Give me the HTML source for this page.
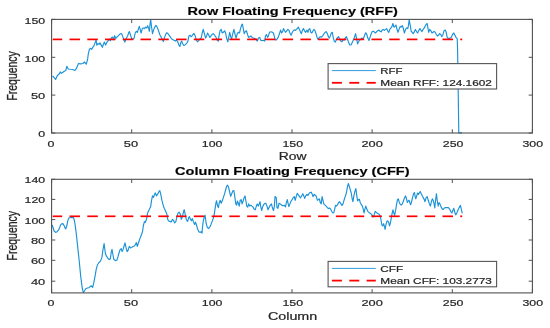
<!DOCTYPE html>
<html><head><meta charset="utf-8"><title>Floating Frequency</title>
<style>html,body{margin:0;padding:0;background:#fff}svg{display:block}</style>
</head><body><svg width="550" height="328" viewBox="0 0 550 328"><rect width="550" height="328" fill="#fff"/><g font-family="Liberation Sans, Arial, Helvetica, sans-serif"><polyline fill="none" stroke="#1a92d8" stroke-width="1.15" stroke-linejoin="round" points="52.6,76.0 54.1,77.5 55.6,79.5 57.0,76.3 58.0,74.9 59.2,74.1 60.2,71.9 61.4,73.4 62.9,72.2 64.3,71.2 65.8,70.5 66.8,66.4 68.3,69.0 70.5,69.3 72.7,69.5 74.9,70.5 76.3,68.7 78.5,63.5 80.7,63.9 82.9,63.5 84.4,62.0 86.3,64.2 87.7,58.8 88.3,53.8 89.5,49.0 90.7,48.4 91.7,49.4 92.7,47.3 93.9,45.8 95.0,42.9 96.1,39.9 96.8,45.1 98.0,43.6 99.0,44.3 100.0,42.9 101.2,45.1 102.4,47.3 103.4,44.3 104.4,42.1 105.6,45.1 107.0,42.1 108.2,40.7 109.2,39.2 110.3,40.7 111.4,37.7 112.6,37.0 113.6,39.9 114.6,35.6 115.8,38.5 117.0,37.0 118.4,35.6 119.9,34.1 121.4,33.4 122.4,35.6 123.9,39.9 124.9,42.1 126.1,38.5 127.5,36.3 129.0,31.9 129.4,31.6 130.6,35.2 131.6,38.9 133.0,39.2 134.1,38.1 135.2,33.0 136.4,31.3 137.4,32.3 138.5,28.6 139.3,26.4 140.4,30.1 141.1,33.0 142.3,28.6 143.3,27.9 144.3,28.6 145.5,27.2 146.6,27.9 147.7,25.7 148.7,28.6 149.4,31.3 150.2,22.8 150.7,19.6 151.6,27.2 152.5,33.7 153.5,30.1 154.7,27.2 156.0,25.4 157.2,27.2 158.3,30.1 159.8,34.5 161.3,37.4 162.3,39.6 163.3,41.5 164.5,37.4 165.7,34.5 166.7,32.7 168.1,33.7 169.6,35.9 171.1,38.1 172.5,39.6 174.0,40.3 175.5,41.1 176.5,40.0 177.7,41.8 178.8,44.7 179.8,46.5 180.9,42.5 181.7,41.1 182.8,44.0 183.8,45.4 185.3,44.7 186.7,43.3 187.9,41.1 188.9,35.9 190.1,35.2 191.1,36.7 192.0,35.9 193.0,34.5 194.0,33.5 195.2,35.9 196.2,39.6 197.4,41.8 198.9,40.3 200.0,38.9 201.2,38.1 202.2,33.0 203.2,29.4 204.4,33.7 205.6,38.1 206.6,35.9 207.6,33.0 208.8,35.2 209.9,37.4 211.0,35.9 212.0,34.5 213.2,33.7 214.6,35.2 216.1,37.4 217.3,40.3 218.3,41.1 219.0,35.9 220.0,30.8 221.2,29.4 222.2,33.0 223.4,32.3 224.6,30.8 225.6,33.0 226.6,38.1 227.8,41.8 228.7,37.4 229.7,32.3 230.7,36.7 231.6,38.9 232.8,33.7 233.9,29.4 235.1,34.5 236.1,38.1 237.3,33.7 238.3,32.3 239.5,33.0 240.5,28.6 241.7,25.0 242.4,24.2 243.3,28.6 244.2,33.7 245.3,31.6 246.5,30.8 247.5,34.5 248.6,37.4 249.7,36.7 250.9,35.9 252.1,37.4 253.4,38.1 254.8,38.6 256.3,39.6 257.3,41.1 258.5,38.1 259.7,37.4 260.7,40.3 262.2,40.6 263.6,40.3 264.6,41.1 265.5,35.9 266.5,34.5 267.6,37.4 268.4,35.9 269.5,32.3 270.9,31.8 272.4,32.3 273.4,33.0 274.6,37.4 275.0,39.6 276.2,40.0 277.2,38.9 278.2,37.4 279.4,33.7 280.6,30.1 281.6,33.0 282.6,31.6 283.5,28.6 284.5,30.8 285.5,32.3 286.7,30.8 287.9,29.4 288.9,30.1 289.9,33.0 291.1,35.2 292.3,32.3 293.3,30.8 294.3,29.8 295.5,30.4 296.6,29.4 297.7,27.9 298.4,27.2 299.4,29.4 300.6,32.3 301.3,33.7 302.5,30.1 303.5,28.6 304.5,30.8 305.7,32.3 306.9,30.1 307.9,32.3 308.9,29.4 309.8,28.6 310.8,32.3 311.9,33.0 313.0,30.8 314.0,29.4 314.8,30.1 316.0,33.7 317.1,37.4 318.1,39.6 319.2,37.4 320.3,36.7 321.5,37.1 322.7,35.9 324.0,33.7 325.2,32.3 326.2,31.6 327.4,33.7 328.4,36.7 329.4,38.1 330.3,35.9 331.3,33.0 332.3,32.3 333.2,37.4 334.2,41.1 335.3,42.1 336.4,39.6 337.6,37.4 338.6,36.7 339.6,38.9 340.8,41.1 342.0,41.8 343.0,39.6 344.0,40.3 345.2,38.1 346.4,36.7 347.4,38.9 348.4,41.8 349.6,44.7 350.0,45.0 351.2,44.7 352.2,42.5 353.2,40.3 354.4,37.4 355.6,33.7 356.6,38.9 357.6,44.0 358.5,41.8 359.5,40.3 360.5,39.6 361.7,38.1 362.9,38.9 363.9,37.4 364.9,34.5 365.8,32.7 366.8,34.5 367.8,38.1 369.0,40.6 370.0,37.4 371.2,33.7 372.2,31.6 373.4,31.3 374.6,32.3 375.6,33.0 376.6,31.6 377.8,30.8 379.0,30.1 380.0,31.3 381.0,31.8 382.2,30.1 383.3,29.4 384.4,30.4 385.5,29.4 386.6,28.6 387.7,30.8 388.8,32.3 389.8,29.4 391.0,27.9 392.0,26.4 392.9,23.5 393.9,27.2 394.9,26.4 395.9,25.0 396.8,28.6 398.0,32.3 399.0,29.4 400.2,26.4 401.2,27.2 402.4,25.7 403.4,28.6 404.4,33.0 405.6,29.4 406.7,27.9 407.8,28.6 408.5,25.0 409.2,19.9 410.3,25.7 411.1,30.8 412.2,32.3 413.2,33.7 414.4,31.6 415.4,29.4 416.5,31.6 417.6,33.0 418.7,30.8 419.9,28.6 420.9,30.1 422.0,31.6 423.1,29.4 424.3,27.9 425.0,26.4 426.2,24.2 427.2,23.5 427.9,27.9 428.7,32.3 429.7,29.4 430.9,30.8 432.0,33.0 433.0,32.3 434.1,31.6 435.2,32.3 436.4,34.5 437.4,35.9 438.5,35.2 439.6,33.7 440.8,34.5 441.8,36.7 442.8,35.2 444.0,30.8 445.2,30.1 446.2,32.3 447.2,37.4 448.4,38.6 449.9,38.1 451.3,37.4 452.5,34.5 453.8,33.0 455.0,35.2 456.0,37.4 457.2,38.6 457.6,50.0 458.8,132.8 462.0,132.8"/><g stroke="#ff0000" stroke-width="1.7"><line x1="52.7" y1="39.4" x2="62.2" y2="39.4"/><line x1="69.5" y1="39.4" x2="80.0" y2="39.4"/><line x1="87.3" y1="39.4" x2="97.8" y2="39.4"/><line x1="105.0" y1="39.4" x2="115.5" y2="39.4"/><line x1="122.8" y1="39.4" x2="133.3" y2="39.4"/><line x1="140.5" y1="39.4" x2="151.0" y2="39.4"/><line x1="158.3" y1="39.4" x2="168.8" y2="39.4"/><line x1="176.1" y1="39.4" x2="186.6" y2="39.4"/><line x1="193.8" y1="39.4" x2="204.3" y2="39.4"/><line x1="211.6" y1="39.4" x2="222.1" y2="39.4"/><line x1="229.3" y1="39.4" x2="239.8" y2="39.4"/><line x1="247.1" y1="39.4" x2="257.6" y2="39.4"/><line x1="264.9" y1="39.4" x2="275.4" y2="39.4"/><line x1="282.6" y1="39.4" x2="293.1" y2="39.4"/><line x1="300.4" y1="39.4" x2="310.9" y2="39.4"/><line x1="318.1" y1="39.4" x2="328.6" y2="39.4"/><line x1="335.9" y1="39.4" x2="346.4" y2="39.4"/><line x1="353.7" y1="39.4" x2="364.2" y2="39.4"/><line x1="371.4" y1="39.4" x2="381.9" y2="39.4"/><line x1="389.2" y1="39.4" x2="399.7" y2="39.4"/><line x1="406.9" y1="39.4" x2="417.4" y2="39.4"/><line x1="424.7" y1="39.4" x2="435.2" y2="39.4"/><line x1="442.5" y1="39.4" x2="453.0" y2="39.4"/><line x1="460.2" y1="39.4" x2="462.2" y2="39.4"/></g><rect x="51.6" y="19.4" width="480.8" height="113.6" fill="none" stroke="#505050" stroke-width="1.1"/><g stroke="#505050" stroke-width="1"><line x1="51.6" y1="133.0" x2="51.6" y2="129.3"/><line x1="51.6" y1="19.4" x2="51.6" y2="23.099999999999998"/><line x1="131.7" y1="133.0" x2="131.7" y2="129.3"/><line x1="131.7" y1="19.4" x2="131.7" y2="23.099999999999998"/><line x1="211.9" y1="133.0" x2="211.9" y2="129.3"/><line x1="211.9" y1="19.4" x2="211.9" y2="23.099999999999998"/><line x1="292.0" y1="133.0" x2="292.0" y2="129.3"/><line x1="292.0" y1="19.4" x2="292.0" y2="23.099999999999998"/><line x1="372.1" y1="133.0" x2="372.1" y2="129.3"/><line x1="372.1" y1="19.4" x2="372.1" y2="23.099999999999998"/><line x1="452.3" y1="133.0" x2="452.3" y2="129.3"/><line x1="452.3" y1="19.4" x2="452.3" y2="23.099999999999998"/><line x1="532.4" y1="133.0" x2="532.4" y2="129.3"/><line x1="532.4" y1="19.4" x2="532.4" y2="23.099999999999998"/><line x1="51.6" y1="133.0" x2="55.300000000000004" y2="133.0"/><line x1="532.4" y1="133.0" x2="528.6999999999999" y2="133.0"/><line x1="51.6" y1="95.1" x2="55.300000000000004" y2="95.1"/><line x1="532.4" y1="95.1" x2="528.6999999999999" y2="95.1"/><line x1="51.6" y1="57.3" x2="55.300000000000004" y2="57.3"/><line x1="532.4" y1="57.3" x2="528.6999999999999" y2="57.3"/><line x1="51.6" y1="19.4" x2="55.300000000000004" y2="19.4"/><line x1="532.4" y1="19.4" x2="528.6999999999999" y2="19.4"/></g><text font-size="9.8" fill="#262626" stroke="#262626" stroke-width="0.2" transform="translate(47.55,146.60) scale(1.2663,1)" >0</text><text font-size="9.8" fill="#262626" stroke="#262626" stroke-width="0.2" transform="translate(123.85,146.60) scale(1.3122,1)" >50</text><text font-size="9.8" fill="#262626" stroke="#262626" stroke-width="0.2" transform="translate(201.80,146.60) scale(1.2602,1)" >100</text><text font-size="9.8" fill="#262626" stroke="#262626" stroke-width="0.2" transform="translate(282.50,146.60) scale(1.2602,1)" >150</text><text font-size="9.8" fill="#262626" stroke="#262626" stroke-width="0.2" transform="translate(361.40,146.60) scale(1.3092,1)" >200</text><text font-size="9.8" fill="#262626" stroke="#262626" stroke-width="0.2" transform="translate(442.80,146.60) scale(1.2602,1)" >250</text><text font-size="9.8" fill="#262626" stroke="#262626" stroke-width="0.2" transform="translate(522.50,146.60) scale(1.2602,1)" >300</text><text font-size="9.8" fill="#262626" stroke="#262626" stroke-width="0.2" transform="translate(38.30,137.30) scale(1.2663,1)" >0</text><text font-size="9.8" fill="#262626" stroke="#262626" stroke-width="0.2" transform="translate(30.90,99.43) scale(1.3122,1)" >50</text><text font-size="9.8" fill="#262626" stroke="#262626" stroke-width="0.2" transform="translate(24.60,61.57) scale(1.2602,1)" >100</text><text font-size="9.8" fill="#262626" stroke="#262626" stroke-width="0.2" transform="translate(24.60,23.70) scale(1.2602,1)" >150</text><text font-size="10.4" fill="#262626" stroke="#262626" stroke-width="0.2" transform="translate(278.70,159.90) scale(1.3345,1)" >Row</text><text font-size="11.2" fill="#262626" stroke="#262626" stroke-width="0.2" font-weight="bold" transform="translate(187.60,15.40) scale(1.2956,1)" style="fill:#000">Row Floating Frequency (RFF)</text><text font-size="10.3" fill="#262626" stroke="#262626" stroke-width="0.2" transform="translate(16.50,100.60) rotate(-90) scale(1.0151,1.42)" >Frequency</text><rect x="328.1" y="63.6" width="168.5" height="25.4" fill="#fff" stroke="#555" stroke-width="1.1"/><line x1="331.8" y1="70.6" x2="375.8" y2="70.6" stroke="#1a92d8" stroke-width="0.9"/><g stroke="#ff0000" stroke-width="1.8"><line x1="331.9" y1="82.8" x2="341.9" y2="82.8"/><line x1="349.3" y1="82.8" x2="359.3" y2="82.8"/><line x1="366.6" y1="82.8" x2="375.8" y2="82.8"/></g><text font-size="8.8" fill="#262626" stroke="#262626" stroke-width="0.2" transform="translate(380.30,74.40) scale(1.3035,1)" >RFF</text><text font-size="8.8" fill="#262626" stroke="#262626" stroke-width="0.2" transform="translate(380.30,85.90) scale(1.3432,1)" >Mean RFF: 124.1602</text><polyline fill="none" stroke="#1a92d8" stroke-width="1.15" stroke-linejoin="round" points="52.2,224.8 52.9,227.3 54.1,231.0 55.6,232.4 57.0,231.7 58.5,230.2 59.5,228.0 60.5,225.1 61.7,223.9 62.9,223.6 63.9,225.1 64.9,227.7 65.8,228.8 66.8,225.8 67.8,220.7 68.7,218.1 69.7,217.8 70.8,217.1 71.9,217.8 73.1,217.1 74.1,219.3 75.2,225.1 76.3,233.9 79.3,261.7 80.7,276.3 82.2,288.0 83.3,292.4 84.4,291.0 85.8,288.8 87.3,288.0 88.8,287.7 90.2,286.6 91.4,285.8 92.7,287.3 93.9,282.2 95.3,274.9 96.1,269.8 97.5,264.7 99.0,262.5 100.5,261.1 101.9,257.4 102.9,250.1 104.1,243.5 105.3,253.0 106.3,255.9 107.8,258.1 109.2,259.6 110.3,258.9 111.1,253.0 112.0,249.4 112.9,254.5 113.9,259.6 115.4,260.6 117.0,260.0 118.0,256.7 119.0,253.0 120.2,249.4 121.2,248.6 122.1,251.6 123.1,249.4 124.1,245.7 125.0,242.8 126.1,247.9 127.1,251.6 128.2,250.1 128.3,249.4 129.3,246.4 130.5,247.9 131.6,247.5 133.1,246.4 134.4,246.0 135.6,244.3 136.3,242.5 137.3,246.4 138.5,242.8 140.0,238.4 141.4,234.7 142.5,231.8 143.3,226.0 144.4,221.6 145.4,222.3 146.6,218.7 147.7,212.7 149.1,209.7 150.6,206.8 151.6,200.2 152.5,195.9 153.5,197.3 154.5,194.4 155.4,192.9 156.4,195.9 157.5,194.4 158.6,192.2 159.8,190.7 160.8,194.4 161.9,200.2 163.0,204.6 164.2,208.3 165.7,211.2 166.8,214.1 167.7,219.3 168.6,221.0 170.0,221.4 171.2,221.9 172.5,219.3 173.6,220.7 174.7,222.9 175.9,221.4 176.9,217.1 177.9,213.4 179.1,212.2 180.3,214.1 181.3,219.3 182.3,217.1 183.5,211.9 184.2,209.7 185.3,214.9 186.4,220.0 187.6,221.4 188.6,217.8 189.4,216.6 190.4,219.3 191.5,220.7 192.3,218.5 193.3,221.4 194.5,224.4 195.5,222.2 196.7,225.8 197.8,229.5 198.9,231.7 199.9,232.4 201.1,231.7 202.1,233.1 202.2,230.0 203.2,221.5 204.4,216.4 205.1,215.3 206.1,223.0 207.3,227.3 208.5,228.5 209.7,227.3 211.0,224.4 212.4,220.8 213.9,216.4 214.9,209.8 215.8,203.9 216.5,200.7 217.6,206.1 218.4,207.6 219.3,202.5 220.2,200.3 221.2,203.2 222.2,201.0 223.4,197.4 224.6,193.7 225.6,190.0 226.6,186.4 227.5,185.2 228.5,187.1 229.5,191.5 230.7,196.3 231.7,193.7 232.9,190.8 233.9,190.5 234.8,196.6 235.8,203.9 236.6,205.1 237.4,201.0 238.3,203.2 239.2,206.1 240.2,200.3 241.2,199.6 242.1,203.9 243.1,201.0 244.2,197.4 245.0,195.9 245.9,201.0 246.8,206.1 247.7,207.2 248.7,203.9 249.7,206.1 250.9,205.1 251.9,206.1 252.9,206.9 254.1,209.1 255.3,209.8 256.3,206.1 257.3,203.9 258.2,206.1 259.2,203.9 260.0,201.7 260.8,206.9 261.7,210.5 262.6,206.9 263.6,204.7 264.6,203.6 265.8,203.2 267.0,206.1 268.0,209.8 269.0,207.6 270.2,205.4 271.4,203.9 272.4,207.6 273.4,210.5 274.3,206.9 275.0,196.6 276.2,197.4 277.0,207.6 277.9,208.3 279.1,203.2 280.3,203.9 281.6,205.1 283.0,205.7 284.5,205.4 285.5,206.9 286.4,202.5 287.3,199.6 288.2,203.9 288.9,206.6 289.9,203.9 291.1,201.0 292.3,199.3 293.4,197.4 294.3,196.6 295.2,200.3 296.2,196.6 297.2,193.4 298.4,194.9 299.6,196.6 300.6,197.8 301.6,195.9 302.8,193.7 303.8,195.9 304.7,198.4 305.7,195.9 306.9,194.4 307.9,195.5 308.9,193.7 310.1,192.5 311.3,192.2 312.3,194.4 313.0,196.6 314.2,194.4 315.4,195.2 316.4,196.6 317.4,200.3 318.4,199.6 319.3,198.8 320.3,202.5 321.2,203.9 322.1,196.6 323.0,200.3 323.8,203.9 325.0,205.1 326.2,206.1 327.4,207.6 328.4,208.6 329.6,208.0 330.6,209.1 331.7,211.3 332.8,213.0 333.8,212.7 334.7,209.1 335.5,205.4 336.4,206.1 337.6,204.7 338.6,202.5 339.6,201.7 340.8,203.6 342.0,205.4 343.0,203.9 344.0,200.3 345.2,196.6 346.4,193.0 347.4,187.1 348.4,183.5 349.3,186.4 350.0,188.6 351.2,193.0 352.2,198.8 352.9,201.7 353.9,195.9 355.0,190.8 355.9,188.6 356.7,195.2 357.6,201.0 358.5,199.6 359.4,199.3 360.2,202.5 361.4,204.7 362.4,206.1 363.2,209.1 364.0,213.0 364.9,209.1 365.8,206.1 366.8,209.1 367.8,211.3 369.0,212.4 370.5,213.4 371.9,214.9 373.1,217.1 374.1,214.9 375.2,211.3 376.3,212.4 377.8,213.4 379.3,214.5 380.4,216.4 381.0,220.0 381.9,225.1 382.8,225.9 383.6,223.7 384.5,226.6 385.1,229.5 386.0,224.4 386.9,221.5 387.7,220.8 388.6,222.2 389.5,225.9 390.4,223.0 391.2,218.6 392.1,213.4 393.0,209.8 393.9,213.4 394.6,215.3 395.6,210.5 396.5,204.7 397.5,199.6 398.3,198.8 399.1,201.7 400.0,203.9 401.2,205.1 402.4,203.9 403.4,201.0 404.4,198.1 405.6,195.9 406.5,198.8 407.3,202.5 408.2,201.0 409.1,200.3 410.0,203.2 410.7,204.7 411.7,201.0 412.6,197.4 413.6,193.7 414.4,192.5 415.2,196.6 415.8,198.8 416.7,195.9 417.6,193.0 418.4,194.4 419.3,193.0 420.2,191.5 421.1,193.4 422.0,195.2 423.1,197.4 424.3,199.6 425.0,201.7 426.2,197.4 427.2,196.6 428.2,200.3 429.4,203.9 430.4,206.1 431.4,201.7 432.3,198.8 433.2,200.3 434.1,203.9 434.8,208.0 435.5,201.0 436.4,193.7 437.3,201.0 438.2,206.1 439.0,202.5 439.9,203.9 441.1,206.9 442.3,209.1 443.3,209.5 444.3,208.0 445.5,207.6 446.9,207.6 448.4,207.6 449.6,209.1 450.7,211.3 451.9,213.0 452.8,210.5 453.8,208.3 454.7,212.0 455.7,214.9 456.9,212.7 458.1,209.8 459.2,207.6 460.4,205.4 461.3,209.1 462.3,213.4"/><g stroke="#ff0000" stroke-width="1.7"><line x1="52.7" y1="216.3" x2="62.2" y2="216.3"/><line x1="69.5" y1="216.3" x2="80.0" y2="216.3"/><line x1="87.3" y1="216.3" x2="97.8" y2="216.3"/><line x1="105.0" y1="216.3" x2="115.5" y2="216.3"/><line x1="122.8" y1="216.3" x2="133.3" y2="216.3"/><line x1="140.5" y1="216.3" x2="151.0" y2="216.3"/><line x1="158.3" y1="216.3" x2="168.8" y2="216.3"/><line x1="176.1" y1="216.3" x2="186.6" y2="216.3"/><line x1="193.8" y1="216.3" x2="204.3" y2="216.3"/><line x1="211.6" y1="216.3" x2="222.1" y2="216.3"/><line x1="229.3" y1="216.3" x2="239.8" y2="216.3"/><line x1="247.1" y1="216.3" x2="257.6" y2="216.3"/><line x1="264.9" y1="216.3" x2="275.4" y2="216.3"/><line x1="282.6" y1="216.3" x2="293.1" y2="216.3"/><line x1="300.4" y1="216.3" x2="310.9" y2="216.3"/><line x1="318.1" y1="216.3" x2="328.6" y2="216.3"/><line x1="335.9" y1="216.3" x2="346.4" y2="216.3"/><line x1="353.7" y1="216.3" x2="364.2" y2="216.3"/><line x1="371.4" y1="216.3" x2="381.9" y2="216.3"/><line x1="389.2" y1="216.3" x2="399.7" y2="216.3"/><line x1="406.9" y1="216.3" x2="417.4" y2="216.3"/><line x1="424.7" y1="216.3" x2="435.2" y2="216.3"/><line x1="442.5" y1="216.3" x2="453.0" y2="216.3"/><line x1="460.2" y1="216.3" x2="462.2" y2="216.3"/></g><rect x="51.6" y="179.3" width="480.8" height="113.6" fill="none" stroke="#505050" stroke-width="1.1"/><g stroke="#505050" stroke-width="1"><line x1="51.6" y1="292.85" x2="51.6" y2="289.15000000000003"/><line x1="51.6" y1="179.3" x2="51.6" y2="183.0"/><line x1="131.7" y1="292.85" x2="131.7" y2="289.15000000000003"/><line x1="131.7" y1="179.3" x2="131.7" y2="183.0"/><line x1="211.9" y1="292.85" x2="211.9" y2="289.15000000000003"/><line x1="211.9" y1="179.3" x2="211.9" y2="183.0"/><line x1="292.0" y1="292.85" x2="292.0" y2="289.15000000000003"/><line x1="292.0" y1="179.3" x2="292.0" y2="183.0"/><line x1="372.1" y1="292.85" x2="372.1" y2="289.15000000000003"/><line x1="372.1" y1="179.3" x2="372.1" y2="183.0"/><line x1="452.3" y1="292.85" x2="452.3" y2="289.15000000000003"/><line x1="452.3" y1="179.3" x2="452.3" y2="183.0"/><line x1="532.4" y1="292.85" x2="532.4" y2="289.15000000000003"/><line x1="532.4" y1="179.3" x2="532.4" y2="183.0"/><line x1="51.6" y1="281.2" x2="55.300000000000004" y2="281.2"/><line x1="532.4" y1="281.2" x2="528.6999999999999" y2="281.2"/><line x1="51.6" y1="260.3" x2="55.300000000000004" y2="260.3"/><line x1="532.4" y1="260.3" x2="528.6999999999999" y2="260.3"/><line x1="51.6" y1="240.0" x2="55.300000000000004" y2="240.0"/><line x1="532.4" y1="240.0" x2="528.6999999999999" y2="240.0"/><line x1="51.6" y1="219.6" x2="55.300000000000004" y2="219.6"/><line x1="532.4" y1="219.6" x2="528.6999999999999" y2="219.6"/><line x1="51.6" y1="199.4" x2="55.300000000000004" y2="199.4"/><line x1="532.4" y1="199.4" x2="528.6999999999999" y2="199.4"/><line x1="51.6" y1="179.3" x2="55.300000000000004" y2="179.3"/><line x1="532.4" y1="179.3" x2="528.6999999999999" y2="179.3"/></g><text font-size="9.8" fill="#262626" stroke="#262626" stroke-width="0.2" transform="translate(47.55,306.45) scale(1.2663,1)" >0</text><text font-size="9.8" fill="#262626" stroke="#262626" stroke-width="0.2" transform="translate(123.85,306.45) scale(1.3122,1)" >50</text><text font-size="9.8" fill="#262626" stroke="#262626" stroke-width="0.2" transform="translate(201.80,306.45) scale(1.2602,1)" >100</text><text font-size="9.8" fill="#262626" stroke="#262626" stroke-width="0.2" transform="translate(282.50,306.45) scale(1.2602,1)" >150</text><text font-size="9.8" fill="#262626" stroke="#262626" stroke-width="0.2" transform="translate(361.40,306.45) scale(1.3092,1)" >200</text><text font-size="9.8" fill="#262626" stroke="#262626" stroke-width="0.2" transform="translate(442.80,306.45) scale(1.2602,1)" >250</text><text font-size="9.8" fill="#262626" stroke="#262626" stroke-width="0.2" transform="translate(522.50,306.45) scale(1.2602,1)" >300</text><text font-size="9.8" fill="#262626" stroke="#262626" stroke-width="0.2" transform="translate(30.90,285.15) scale(1.3122,1)" >40</text><text font-size="9.8" fill="#262626" stroke="#262626" stroke-width="0.2" transform="translate(30.90,264.20) scale(1.3122,1)" >60</text><text font-size="9.8" fill="#262626" stroke="#262626" stroke-width="0.2" transform="translate(30.90,243.90) scale(1.3122,1)" >80</text><text font-size="9.8" fill="#262626" stroke="#262626" stroke-width="0.2" transform="translate(24.60,223.50) scale(1.2602,1)" >100</text><text font-size="9.8" fill="#262626" stroke="#262626" stroke-width="0.2" transform="translate(24.60,203.30) scale(1.2602,1)" >120</text><text font-size="9.8" fill="#262626" stroke="#262626" stroke-width="0.2" transform="translate(24.60,183.20) scale(1.2602,1)" >140</text><text font-size="10.4" fill="#262626" stroke="#262626" stroke-width="0.2" transform="translate(267.90,319.75) scale(1.3784,1)" >Column</text><text font-size="11.2" fill="#262626" stroke="#262626" stroke-width="0.2" font-weight="bold" transform="translate(175.10,174.70) scale(1.3002,1)" style="fill:#000">Column Floating Frequency (CFF)</text><text font-size="10.3" fill="#262626" stroke="#262626" stroke-width="0.2" transform="translate(16.50,260.40) rotate(-90) scale(1.0151,1.42)" >Frequency</text><rect x="328.1" y="261.4" width="168.5" height="25.4" fill="#fff" stroke="#555" stroke-width="1.1"/><line x1="331.8" y1="268.4" x2="375.8" y2="268.4" stroke="#1a92d8" stroke-width="0.9"/><g stroke="#ff0000" stroke-width="1.8"><line x1="331.9" y1="280.6" x2="341.9" y2="280.6"/><line x1="349.3" y1="280.6" x2="359.3" y2="280.6"/><line x1="366.6" y1="280.6" x2="375.8" y2="280.6"/></g><text font-size="8.8" fill="#262626" stroke="#262626" stroke-width="0.2" transform="translate(380.30,272.20) scale(1.3328,1)" >CFF</text><text font-size="8.8" fill="#262626" stroke="#262626" stroke-width="0.2" transform="translate(380.30,283.70) scale(1.3432,1)" >Mean CFF: 103.2773</text></g></svg></body></html>
